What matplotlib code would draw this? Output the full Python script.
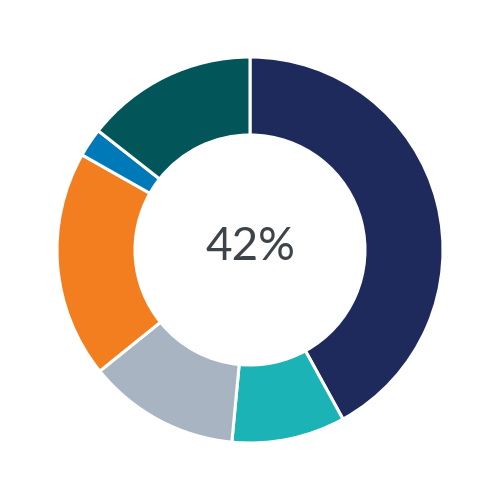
import matplotlib
matplotlib.use("Agg")
import matplotlib.pyplot as plt

# slice shares, clockwise from 12 o'clock
labels = ["navy", "teal", "gray", "orange", "blue", "green"]
shares = [42.0, 9.5, 12.7, 19.0, 2.4, 14.4]
colors = ["#1d2a5b", "#1bb3b6", "#a9b4c2", "#f37e20", "#0079b8", "#02565a"]
center_text = "42%"

fig = plt.figure(figsize=(5, 5), dpi=100)
ax = fig.add_axes([0, 0, 1, 1])

outer = 193
inner = 115
ax.pie(shares, colors=colors, startangle=90, counterclock=False,
       radius=outer, wedgeprops=dict(width=outer - inner, edgecolor="white",
                                     linewidth=2.2))

ax.text(0, 3, center_text, ha="center", va="center", fontsize=33,
        color="#3d4449", family=["Lato", "DejaVu Sans"], fontweight="normal")

ax.set_xlim(-250, 250)
ax.set_ylim(-250, 250)
ax.set_aspect("equal")
ax.axis("off")

fig.savefig("out.png", dpi=100, facecolor="white")
